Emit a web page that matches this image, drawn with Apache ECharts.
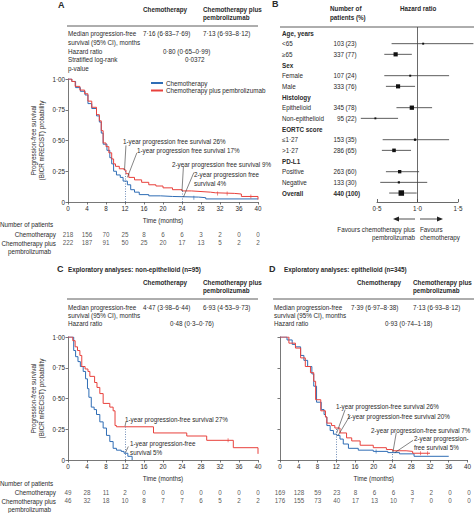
<!DOCTYPE html>
<html>
<head>
<meta charset="utf-8">
<script src="https://cdn.jsdelivr.net/npm/echarts@6/dist/echarts.min.js"></script>
<style>html,body{margin:0;padding:0;background:#fff}#main{width:474px;height:513px}</style>
</head>
<body>
<div id="main"></div>
<script>
// ---- data ----
var riskTimes = [0, 4, 8, 12, 16, 20, 24, 28, 32, 36, 40];

// A: all patients
var aChemo = [[0,1],[0.8,0.98],[1.6,0.93],[2.6,0.9],[3.6,0.87],[4.2,0.8],[5,0.76],[6,0.7],[6.6,0.65],[7,0.56],[7.4,0.47],[8.2,0.42],[8.8,0.36],[9.2,0.31],[9.6,0.25],[10.2,0.22],[11,0.2],[11.6,0.17],[12.5,0.14],[13.2,0.1],[14,0.08],[15,0.06],[17,0.05],[19.5,0.045],[22,0.04],[27.5,0.035],[29,0.025],[40,0.025]];
var aPembro = [[0,1],[0.8,0.98],[1.5,0.94],[2.5,0.91],[3.5,0.88],[4.2,0.82],[5,0.77],[6,0.71],[6.6,0.66],[7,0.58],[7.4,0.48],[8,0.45],[8.6,0.4],[9.2,0.35],[9.6,0.31],[10,0.29],[10.8,0.27],[11.8,0.26],[12.2,0.23],[12.8,0.2],[14,0.18],[15.5,0.16],[17,0.14],[18.5,0.13],[20,0.115],[22,0.1],[24,0.09],[26,0.085],[28,0.08],[30,0.075],[31,0.07],[35,0.065],[36.5,0.045],[40,0.02]];
var aChemoCensor = [[26.5,0.035]];
var aPembroCensor = [[31.5,0.07],[33.5,0.07],[38.5,0.045]];
var aRiskChemo = [218, 156, 70, 25, 8, 6, 6, 3, 2, 0, 0];
var aRiskPembro = [222, 187, 91, 50, 25, 20, 17, 13, 5, 2, 2];
var aLeaders = [[[12.2,0.46],[11.9,0.26]], [[14.5,0.4],[12.5,0.2]], [[24.3,0.29],[24,0.09]], [[26.5,0.24],[24.3,0.04]]];
var aDotted = [[12,0.26],[24,0.09]];

// B: forest plot
var forestRows = ['Age, years','<65','≥65','Sex','Female','Male','Histology','Epithelioid','Non-epithelioid','EORTC score','≤1·27','>1·27','PD-L1','Positive','Negative','Overall'];
var forestBold = [1,0,0,1,0,0,1,0,0,1,0,0,1,0,0,1];
var forestN   = [null,103,337,null,107,333,null,345,95,null,153,286,null,263,133,440];
var forestPct = [null,23,77,null,24,76,null,78,22,null,35,65,null,60,30,100];
var forestHR  = [null,1.07,0.73,null,0.91,0.76,null,0.93,0.48,null,0.97,0.71,null,0.78,0.77,0.80];
var forestLo  = [null,0.68,0.59,null,0.59,0.61,null,0.74,0.30,null,0.57,0.56,null,0.61,0.54,0.65];
var forestHi  = [null,1.69,0.93,null,1.39,0.97,null,1.18,0.76,null,1.39,0.92,null,1.02,1.12,0.99];
var hrTicks = [0.5, 1.0, 1.5];

// C: non-epithelioid
var cChemo = [[0,1],[1.2,0.89],[1.6,0.84],[2.1,0.8],[2.6,0.76],[3.2,0.72],[3.7,0.66],[4.1,0.58],[4.4,0.51],[4.9,0.43],[5.5,0.41],[6,0.37],[6.7,0.31],[7.4,0.26],[8.1,0.2],[8.8,0.15],[9.5,0.095],[10.2,0.08],[11.2,0.07],[11.8,0.055],[12.6,0.03],[13.5,0]];
var cPembro = [[0,1],[1,0.97],[1.5,0.92],[2,0.89],[2.5,0.85],[2.9,0.76],[3.6,0.74],[4.2,0.72],[4.6,0.68],[5.6,0.63],[6.1,0.59],[6.7,0.54],[7.4,0.46],[8.8,0.43],[9.5,0.4],[9.9,0.28],[10.2,0.27],[18,0.22],[25,0.195],[29.2,0.16],[34.8,0.1],[40,0.05]];
var cPembroCensor = [[33.7,0.16]];
var cRiskChemo = [49, 28, 11, 2, 0, 0, 0, 0, 0, 0, 0];
var cRiskPembro = [46, 32, 18, 10, 8, 7, 7, 6, 5, 2, 2];
var cLeaders = [[[12.2,0.31],[12,0.275]], [[12.7,0.11],[12.1,0.06]]];
var cDotted = [[12,0.27]];

// D: epithelioid
var dChemo = [[0,1],[1.5,0.976],[2.6,0.94],[3.3,0.92],[4.4,0.85],[5.1,0.81],[5.9,0.76],[6.8,0.7],[7.2,0.6],[7.8,0.47],[8.8,0.41],[9.4,0.37],[9.7,0.35],[10,0.28],[10.7,0.24],[11.4,0.21],[12.1,0.2],[12.8,0.17],[13.5,0.13],[14.6,0.095],[16.7,0.08],[19.9,0.07],[23,0.06],[25.5,0.05],[28.6,0.03],[36,0.03]];
var dPembro = [[0,1],[1.9,0.95],[3.3,0.91],[4.4,0.83],[5.4,0.76],[6.5,0.71],[7.2,0.64],[7.6,0.49],[8.7,0.4],[9.7,0.35],[10,0.3],[11,0.28],[11.7,0.26],[12.8,0.22],[14.2,0.18],[15.3,0.155],[17.1,0.12],[19.9,0.1],[22.7,0.085],[24,0.075],[26.9,0.07],[28.3,0.055],[32,0.055]];
var dChemoCensor = [[20.5,0.07]];
var dPembroCensor = [[30,0.055],[31.5,0.055]];
var dRiskChemo = [169, 128, 59, 23, 8, 6, 6, 3, 2, 0, 0];
var dRiskPembro = [176, 155, 73, 40, 17, 13, 10, 7, 0, 0, 0];
var dLeaders = [[[13.9,0.41],[12.1,0.22]], [[15,0.365],[12.4,0.2]], [[24.8,0.22],[24.1,0.065]], [[28.4,0.16],[24.5,0.06]]];
var dDotted = [[12,0.26],[24,0.07]];

// ---- styling ----
var F = '"Liberation Sans", Arial, sans-serif';
var FS = 6.3;
var INK = '#2a2a2a';
var BLUE = '#2f6db5';
var RED = '#e8413c';
var NAME_CHEMO = 'Chemotherapy';
var NAME_PEMBRO = 'Chemotherapy plus pembrolizumab';

function dot(v) { return String(v).replace('.', '·'); }

function txt(x, y, s, o) {
  o = o || {};
  return { type: 'text', x: x, y: y, z: 10, silent: true,
    style: { text: s, fill: INK, fontSize: o.size || FS, fontFamily: F,
      fontWeight: o.bold ? 'bold' : 'normal', align: o.align || 'left', verticalAlign: 'middle' } };
}
function rule(x1, y, x2) {
  return { type: 'line', silent: true, shape: { x1: x1, y1: y, x2: x2, y2: y }, style: { stroke: '#333', lineWidth: 0.8 } };
}

function kmX(g) {
  return { gridIndex: g, type: 'value', min: 0, max: 40, interval: 4,
    name: 'Time (months)', nameLocation: 'middle', nameGap: 15,
    nameTextStyle: { fontSize: FS, fontFamily: F, color: INK },
    axisLine: { lineStyle: { color: '#555', width: 0.8 } },
    axisTick: { length: 2.5, lineStyle: { color: '#555', width: 0.8 } },
    axisLabel: { fontSize: FS, fontFamily: F, color: INK, margin: 3 },
    splitLine: { show: false } };
}
function kmY(g, withLabels) {
  return { gridIndex: g, type: 'value', min: 0, max: 1, interval: 0.25,
    name: withLabels ? 'Progression-free survival\n(BICR mRECIST) probability' : '',
    nameLocation: 'middle', nameGap: 22,
    nameTextStyle: { fontSize: FS, fontFamily: F, color: INK, lineHeight: 8.5 },
    axisLine: { show: true, lineStyle: { color: '#555', width: 0.8 } },
    axisTick: { show: true, length: 2.5, lineStyle: { color: '#555', width: 0.8 } },
    axisLabel: { show: withLabels, fontSize: FS, fontFamily: F, color: INK, margin: 3,
      formatter: function (v) { return v === 0 ? '0' : dot(v.toFixed(2)); } },
    splitLine: { show: false } };
}
function guides(leaders, dotted) {
  var d = leaders.map(function (l) {
    return [{ coord: l[0], lineStyle: { color: '#333', width: 0.6, type: 'solid' } }, { coord: l[1] }];
  }).concat(dotted.map(function (p) {
    return [{ coord: [p[0], 0], lineStyle: { color: '#4a6fa5', width: 0.8, type: [1, 1.5] } }, { coord: p }];
  }));
  return { silent: true, symbol: ['none', 'none'], label: { show: false }, animation: false, data: d };
}
function km(name, data, color, g, mark) {
  var s = { name: name, type: 'line', step: 'end', data: data, xAxisIndex: g, yAxisIndex: g,
    symbol: 'none', lineStyle: { color: color, width: 1 }, itemStyle: { color: color }, z: 3 };
  if (mark) s.markLine = mark;
  return s;
}
function censor(data, color, g) {
  return { type: 'scatter', name: 'censored', data: data, xAxisIndex: g, yAxisIndex: g,
    symbol: 'rect', symbolSize: [0.8, 4], itemStyle: { color: color }, silent: true, z: 4 };
}
function riskAxisX(g) { return { gridIndex: g, type: 'value', min: 0, max: 40, show: false }; }
function riskAxisY(g) { return { gridIndex: g, type: 'category', data: ['chemo', 'pembro'], inverse: true, show: false }; }
function risk(chemo, pembro, g) {
  var d = [];
  riskTimes.forEach(function (t, i) { d.push([t, 0, chemo[i]]); d.push([t, 1, pembro[i]]); });
  return { type: 'scatter', data: d, xAxisIndex: g, yAxisIndex: g, symbolSize: 1,
    itemStyle: { color: 'transparent' }, silent: true,
    label: { show: true, position: 'inside', color: INK, fontSize: FS, fontFamily: F,
      formatter: function (p) { return String(p.value[2]); } } };
}

function forestSize(n) { return 1.5 + 4 * Math.pow(n / 440, 1.5); }

// ---- static text: tables, titles, annotations ----
var graphics = [
  // A
  txt(58, 5, 'A', { bold: true, size: 9 }),
  txt(143, 9, 'Chemotherapy', { bold: true }),
  txt(203, 9, 'Chemotherapy plus', { bold: true }),
  txt(203, 17, 'pembrolizumab', { bold: true }),
  rule(67, 26, 258),
  txt(68, 33, 'Median progression-free'),
  txt(68, 42, 'survival (95% CI), months'),
  txt(68, 51, 'Hazard ratio'),
  txt(68, 59, 'Stratified log-rank'),
  txt(68, 68, 'p-value'),
  txt(143, 33, '7·16 (6·83–7·69)'),
  txt(203, 33, '7·13 (6·93–8·12)'),
  txt(163, 51, '0·80 (0·65–0·99)'),
  txt(185, 59, '0·0372'),
  txt(123, 141, '1-year progression free survival 26%'),
  txt(137, 150, '1-year progression free survival 17%'),
  txt(172, 164, '2-year progression free survival 9%'),
  txt(194, 174, '2-year progression free'),
  txt(194, 183, 'survival 4%'),
  txt(0, 224, 'Number of patients'),
  txt(56, 234, 'Chemotherapy', { align: 'right' }),
  txt(56, 243, 'Chemotherapy plus', { align: 'right' }),
  txt(51, 251, 'pembrolizumab', { align: 'right' }),
  // B
  txt(272, 4, 'B', { bold: true, size: 9 }),
  txt(330, 8, 'Number of', { bold: true }),
  txt(330, 17, 'patients (%)', { bold: true }),
  txt(400, 8, 'Hazard ratio', { bold: true }),
  rule(280, 27, 474),
  { type: 'line', silent: true, shape: { x1: 397, y1: 219, x2: 415, y2: 219 }, style: { stroke: '#222', lineWidth: 0.8 } },
  { type: 'polygon', silent: true, shape: { points: [[393, 219], [399, 216.5], [399, 221.5]] }, style: { fill: '#222' } },
  { type: 'line', silent: true, shape: { x1: 420, y1: 219, x2: 438, y2: 219 }, style: { stroke: '#222', lineWidth: 0.8 } },
  { type: 'polygon', silent: true, shape: { points: [[443, 219], [437, 216.5], [437, 221.5]] }, style: { fill: '#222' } },
  txt(415, 229, 'Favours chemotherapy plus', { align: 'right' }),
  txt(415, 237, 'pembrolizumab', { align: 'right' }),
  txt(420, 229, 'Favours'),
  txt(420, 237, 'chemotherapy'),
  // C
  txt(57, 269, 'C', { bold: true, size: 9 }),
  txt(68, 269, 'Exploratory analyses: non-epithelioid (n=95)', { bold: true }),
  txt(143, 282, 'Chemotherapy', { bold: true }),
  txt(203, 282, 'Chemotherapy plus', { bold: true }),
  txt(203, 290, 'pembrolizumab', { bold: true }),
  rule(67, 299, 258),
  txt(68, 307, 'Median progression-free'),
  txt(68, 315, 'survival (95% CI), months'),
  txt(68, 323, 'Hazard ratio'),
  txt(143, 307, '4·47 (3·98–6·44)'),
  txt(203, 307, '6·93 (4·53–9·73)'),
  txt(170, 323, '0·48 (0·3–0·76)'),
  txt(125, 419, '1-year progression-free survival 27%'),
  txt(130, 443, '1-year progression-free'),
  txt(130, 452, 'survival 5%'),
  txt(0, 483, 'Number of patients'),
  txt(56, 492, 'Chemotherapy', { align: 'right' }),
  txt(56, 501, 'Chemotherapy plus', { align: 'right' }),
  txt(51, 509, 'pembrolizumab', { align: 'right' }),
  // D
  txt(269, 269, 'D', { bold: true, size: 9 }),
  txt(284, 269, 'Exploratory analyses: epithelioid (n=345)', { bold: true }),
  txt(357, 282, 'Chemotherapy', { bold: true }),
  txt(413, 282, 'Chemotherapy plus', { bold: true }),
  txt(413, 290, 'pembrolizumab', { bold: true }),
  rule(273, 299, 474),
  txt(274, 307, 'Median progression-free'),
  txt(274, 315, 'survival (95% CI), months'),
  txt(274, 323, 'Hazard ratio'),
  txt(351, 307, '7·39 (6·97–8·38)'),
  txt(413, 307, '7·13 (6·93–8·12)'),
  txt(385, 323, '0·93 (0·74–1·18)'),
  txt(336, 406, '1-year progression-free survival 26%'),
  txt(347, 416, '1-year progression-free survival 20%'),
  txt(371, 430, '2-year progression-free survival 7%'),
  txt(414, 438, '2-year progression-'),
  txt(414, 447, 'free survival 5%')
];

var myChart = echarts.init(document.getElementById('main'), null, { renderer: 'svg' });

var option = {
  animation: false,
  backgroundColor: '#fff',
  textStyle: { fontFamily: F },
  legend: {
    orient: 'vertical', left: 146, top: 75, itemGap: 1.5, itemWidth: 12, itemHeight: 2,
    icon: 'rect', selectedMode: false,
    textStyle: { fontSize: FS, fontFamily: F, color: INK, padding: [0, 0, 0, -2] },
    data: [NAME_CHEMO, NAME_PEMBRO]
  },
  grid: [
    { left: 68, right: 216, top: 79, bottom: 311 },   // A
    { left: 377, right: 16, top: 27, bottom: 311 },   // B
    { left: 68, right: 216, top: 337, bottom: 53 },   // C
    { left: 280, right: 5, top: 337, bottom: 53 },    // D
    { left: 68, right: 216, top: 230, height: 17 },   // A risk
    { left: 68, right: 216, top: 488, height: 17 },   // C risk
    { left: 280, right: 5, top: 488, height: 17 }     // D risk
  ],
  xAxis: [
    kmX(0),
    { gridIndex: 1, type: 'value', min: hrTicks[0], max: hrTicks[2], interval: 0.5, position: 'bottom',
      axisLine: { onZero: false, lineStyle: { color: '#444', width: 0.8 } },
      axisTick: { inside: true, length: 3, lineStyle: { color: '#444', width: 0.8 } },
      axisLabel: { fontSize: FS, fontFamily: F, color: INK, margin: 3,
        formatter: function (v) { return dot(v.toFixed(1)); } },
      splitLine: { show: false } },
    kmX(2), kmX(3),
    riskAxisX(4), riskAxisX(5), riskAxisX(6)
  ],
  yAxis: [
    kmY(0, true),
    { gridIndex: 1, type: 'value', min: -0.5625, max: 15.84, inverse: true, show: false },
    kmY(2, true), kmY(3, false),
    riskAxisY(4), riskAxisY(5), riskAxisY(6)
  ],
  series: [
    km(NAME_CHEMO, aChemo, BLUE, 0, guides(aLeaders, aDotted)),
    km(NAME_PEMBRO, aPembro, RED, 0),
    censor(aChemoCensor, BLUE, 0),
    censor(aPembroCensor, RED, 0),
    km(NAME_CHEMO, cChemo, BLUE, 2, guides(cLeaders, cDotted)),
    km(NAME_PEMBRO, cPembro, RED, 2),
    censor(cPembroCensor, RED, 2),
    km(NAME_CHEMO, dChemo, BLUE, 3, guides(dLeaders, dDotted)),
    km(NAME_PEMBRO, dPembro, RED, 3),
    censor(dChemoCensor, BLUE, 3),
    censor(dPembroCensor, RED, 3),
    // reference line at HR = 1
    { type: 'line', data: [[1, -0.5625], [1, 15.84]], xAxisIndex: 1, yAxisIndex: 1,
      symbol: 'none', lineStyle: { color: '#444', width: 0.8 }, silent: true },
    // forest rows
    { type: 'custom', xAxisIndex: 1, yAxisIndex: 1, clip: false, silent: true,
      data: forestRows.map(function (r, i) { return [i]; }),
      renderItem: function (params, api) {
        var i = api.value(0);
        var y = api.coord([1, i])[1];
        var x0 = params.coordSys.x;
        var bold = forestBold[i] ? 'bold' : 'normal';
        var kids = [{ type: 'text', style: { x: x0 - 95, y: y, text: forestRows[i], fill: INK,
          fontSize: FS, fontFamily: F, fontWeight: bold, verticalAlign: 'middle' } }];
        if (forestN[i] != null) {
          kids.push({ type: 'text', style: { x: x0 - 33, y: y, text: String(forestN[i]), align: 'right',
            fill: INK, fontSize: FS, fontFamily: F, fontWeight: bold, verticalAlign: 'middle' } });
          kids.push({ type: 'text', style: { x: x0 - 31.5, y: y, text: '(' + forestPct[i] + ')',
            fill: INK, fontSize: FS, fontFamily: F, fontWeight: bold, verticalAlign: 'middle' } });
          var lo = api.coord([forestLo[i], i]), hi = api.coord([forestHi[i], i]), c = api.coord([forestHR[i], i]);
          var s = forestSize(forestN[i]);
          kids.push({ type: 'line', shape: { x1: lo[0], y1: y, x2: hi[0], y2: y }, style: { stroke: '#333', lineWidth: 0.8 } });
          kids.push({ type: 'rect', shape: { x: c[0] - s / 2, y: y - s / 2, width: s, height: s }, style: { fill: '#111' } });
        }
        return { type: 'group', children: kids };
      } },
    risk(aRiskChemo, aRiskPembro, 4),
    risk(cRiskChemo, cRiskPembro, 5),
    risk(dRiskChemo, dRiskPembro, 6)
  ],
  graphic: graphics
};

myChart.setOption(option);
window.addEventListener('resize', function () { myChart.resize(); });
</script>
</body>
</html>
